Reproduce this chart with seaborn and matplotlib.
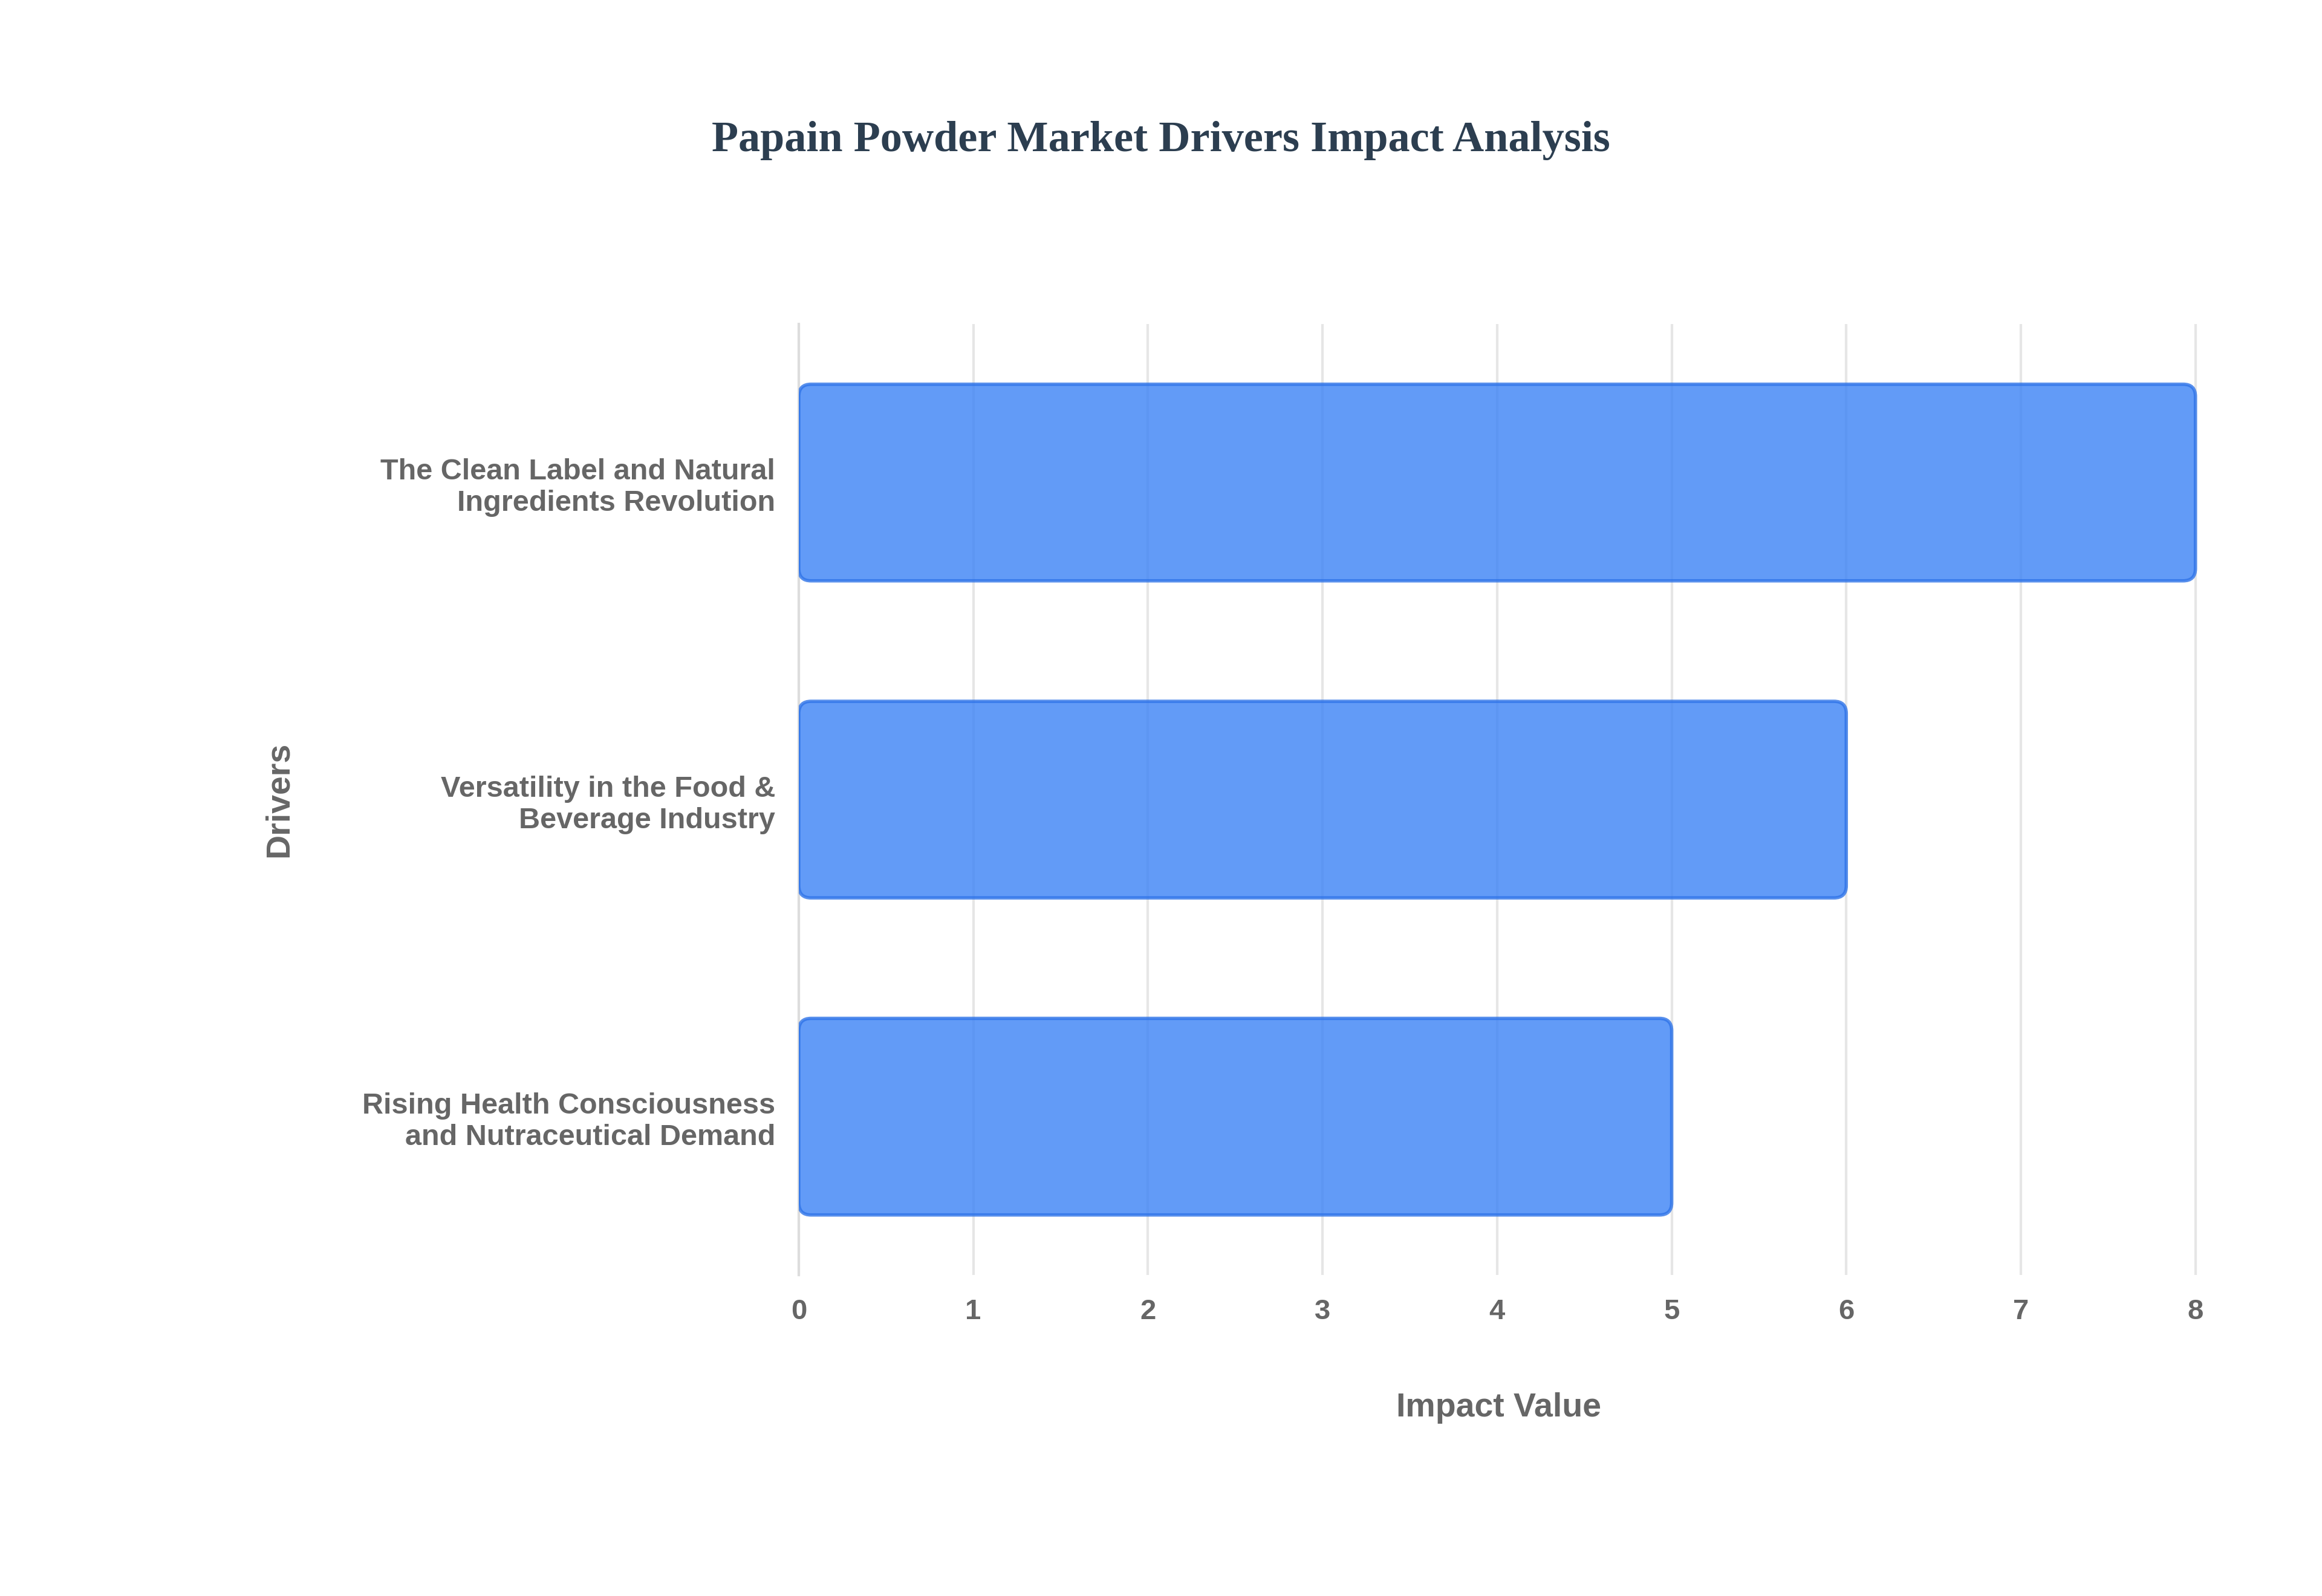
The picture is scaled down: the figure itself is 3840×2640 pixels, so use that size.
import matplotlib
matplotlib.use("Agg")
import matplotlib.pyplot as plt
import seaborn as sns
import pandas as pd
from matplotlib.patches import FancyBboxPatch

drivers = ["The Clean Label and Natural\nIngredients Revolution",
           "Versatility in the Food &\nBeverage Industry",
           "Rising Health Consciousness\nand Nutraceutical Demand"]
impact = [8, 6, 5]
xticks = [0, 1, 2, 3, 4, 5, 6, 7, 8]

df = pd.DataFrame({"Drivers": drivers, "Impact Value": impact})

sns.set_theme(style="white")
plt.rcParams['font.family'] = ['Liberation Sans', 'DejaVu Sans']

fig = plt.figure(figsize=(19.2, 13.2), dpi=200)
ax = fig.add_axes([0.344, 0.201, 0.603, 0.596])
sns.barplot(data=df, y="Drivers", x="Impact Value", orient="h", ax=ax,
            color="#3b82f6", width=0.62)

for p in list(ax.patches):
    x, y, w, h = p.get_x(), p.get_y(), p.get_width(), p.get_height()
    p.remove()
    fb = FancyBboxPatch((x, y), w, h, boxstyle="round,pad=0,rounding_size=0.07",
                        mutation_aspect=0.55, facecolor="#3b82f6", alpha=0.8,
                        edgecolor="#2f74e8", linewidth=2, zorder=3)
    ax.add_patch(fb)

ax.set_xlim(0, 8.02)
ax.set_ylim(2.5, -0.5)
ax.set_xticks(xticks)
ax.xaxis.grid(True, color="#e6e6e6", linewidth=1.5, zorder=0)
ax.set_axisbelow(True)
for s in ["top", "right", "bottom"]:
    ax.spines[s].set_visible(False)
ax.spines["left"].set_color("#dddddd")
ax.spines["left"].set_linewidth(1.5)
ax.tick_params(axis="both", length=0, pad=14)
for lab in ax.get_xticklabels():
    lab.set_fontsize(17); lab.set_fontweight("bold"); lab.set_color("#666666")
for lab in ax.get_yticklabels():
    lab.set_fontsize(17.5); lab.set_fontweight("bold"); lab.set_color("#666666")
    lab.set_horizontalalignment("right")
ax.set_xlabel("Impact Value", fontsize=20, fontweight="bold", color="#666666", labelpad=40)
ax.set_ylabel("Drivers", fontsize=20, fontweight="bold", color="#666666", labelpad=40)

fig.text(0.5, 0.912, "Papain Powder Market Drivers Impact Analysis",
         ha="center", va="center", fontsize=26, fontweight="bold",
         color="#2c3e50", family=["Liberation Serif", "DejaVu Serif"])

fig.savefig("out.png", dpi=200, facecolor="white")
